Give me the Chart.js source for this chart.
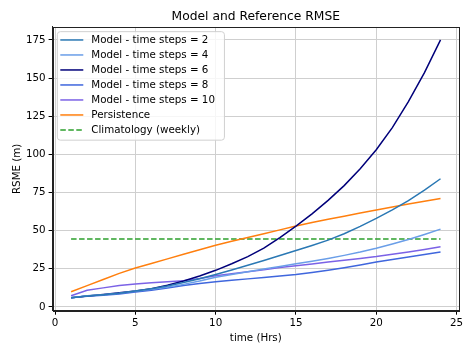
<!DOCTYPE html>
<html>
<head>
<meta charset="utf-8">
<script src="https://cdn.jsdelivr.net/npm/chart.js@4.4.1/dist/chart.umd.min.js"></script>
<style>
html,body{margin:0;padding:0;background:#fff;}
#wrap{width:474px;height:355px;}
canvas{display:block;}
</style>
</head>
<body>
<div id="wrap"><canvas id="c" width="474" height="355"></canvas></div>
<script>
const hours = [1,2,3,4,5,6,7,8,9,10,11,12,13,14,15,16,17,18,19,20,21,22,23,24];
const steps2  = [6,7.2,8,9,10.4,12,13.8,16,18.5,21.3,24.2,27.3,30.4,33.7,37,40.3,43.8,48,52.8,58,63.6,69.7,76.5,84];
const steps4  = [6,7.3,8,9,10.3,11.6,13,14.8,17,19.5,21.3,23,24.8,26.5,28.3,30,31.8,33.8,36,38.5,41.3,44.2,47.5,51];
const steps6  = [6,7.2,8.2,9.3,10.5,12,14.2,17,20.3,24,28.3,33,38.5,45.5,53,61,69.8,79.5,90.5,103,117.5,134.5,153.5,175];
const steps8  = [6,7,7.6,8.5,9.8,11,12.4,14,15.3,16.5,17.5,18.4,19.3,20.3,21.3,22.6,24.1,25.7,27.5,29.4,31.1,32.7,34.4,36];
const steps10 = [7.3,11,12.5,14,15,15.8,16.5,17.2,18.7,20.5,21.8,23,24.3,25.8,27,28.2,29.4,30.6,31.8,33,34.5,36,37.6,39.4];
const persistence = [10,14,18,22,25.5,28.5,31.5,34.5,37.5,40.4,43,45.5,48,50.5,53,55.3,57.5,59.5,61.5,63.5,65.5,67.5,69.2,71];
const climatology = [44.5,44.5,44.5,44.5,44.5,44.5,44.5,44.5,44.5,44.5,44.5,44.5,44.5,44.5,44.5,44.5,44.5,44.5,44.5,44.5,44.5,44.5,44.5,44.5];
const seriesLabels = ["Model - time steps = 2","Model - time steps = 4","Model - time steps = 6","Model - time steps = 8","Model - time steps = 10","Persistence","Climatology (weekly)"];
const xTicks = [0,5,10,15,20,25];
const yTicks = [0,25,50,75,100,125,150,175];

const colors = ['#2a78b4','#6a9ee8','#00007a','#3f66dd','#7b62e6','#ff7f0e','#2ca02c'];
const allSeries = [steps2, steps4, steps6, steps8, steps10, persistence, climatology];
const FONT = 'DejaVu Sans';

const datasets = allSeries.map((arr, i) => ({
  label: seriesLabels[i],
  data: hours.map((h, j) => ({x: h, y: arr[j]})),
  borderColor: colors[i],
  backgroundColor: colors[i],
  borderWidth: 1.5,
  borderDash: i === 6 ? [5.5, 2.5] : [],
  pointRadius: 0,
  tension: 0,
  fill: false
}));

const framePlugin = {
  id: 'frame',
  afterDraw(chart) {
    const {ctx, chartArea: a} = chart;
    ctx.save();
    ctx.strokeStyle = '#222';
    ctx.lineWidth = 1;
    ctx.strokeRect(Math.round(a.left) + 0.5, Math.round(a.top) + 0.5, Math.round(a.right - a.left), Math.round(a.bottom - a.top));
    // legend
    ctx.font = '10.3px "' + FONT + '"';
    let maxW = 0;
    chart.data.datasets.forEach(d => { maxW = Math.max(maxW, ctx.measureText(d.label).width); });
    const lx = a.left + 4.7, ly = a.top + 4.7;
    const rowH = 15;
    const w = 38.5 + maxW + 5;
    const h = rowH * chart.data.datasets.length + 3.5;
    const r = 3;
    ctx.beginPath();
    ctx.moveTo(lx + r, ly);
    ctx.lineTo(lx + w - r, ly);
    ctx.quadraticCurveTo(lx + w, ly, lx + w, ly + r);
    ctx.lineTo(lx + w, ly + h - r);
    ctx.quadraticCurveTo(lx + w, ly + h, lx + w - r, ly + h);
    ctx.lineTo(lx + r, ly + h);
    ctx.quadraticCurveTo(lx, ly + h, lx, ly + h - r);
    ctx.lineTo(lx, ly + r);
    ctx.quadraticCurveTo(lx, ly, lx + r, ly);
    ctx.closePath();
    ctx.fillStyle = 'rgba(255,255,255,0.8)';
    ctx.fill();
    ctx.strokeStyle = '#d0d0d0';
    ctx.lineWidth = 1;
    ctx.stroke();
    chart.data.datasets.forEach((d, i) => {
      const cy = ly + 8.3 + i * rowH;
      ctx.beginPath();
      ctx.setLineDash(d.borderDash || []);
      ctx.strokeStyle = d.borderColor;
      ctx.lineWidth = 1.5;
      ctx.moveTo(lx + 3, cy);
      ctx.lineTo(lx + 26, cy);
      ctx.stroke();
      ctx.setLineDash([]);
      ctx.fillStyle = '#000';
      ctx.textBaseline = 'middle';
      ctx.textAlign = 'left';
      ctx.fillText(d.label, lx + 34, cy);
    });
    ctx.restore();
  }
};

new Chart(document.getElementById('c'), {
  type: 'line',
  data: {datasets},
  plugins: [framePlugin],
  options: {
    responsive: false,
    animation: false,
    layout: {padding: {left: 0, right: 15, top: 0, bottom: 0}},
    plugins: {
      legend: {display: false},
      tooltip: {enabled: false},
      title: {
        display: true,
        text: 'Model and Reference RMSE',
        fullSize: false,
        color: '#000',
        font: {family: FONT, size: 12.3, weight: 'normal'},
        padding: {top: 9.2, bottom: 3}
      }
    },
    scales: {
      x: {
        type: 'linear',
        min: -0.15,
        max: 25.15,
        afterBuildTicks: s => { s.ticks = xTicks.map(v => ({value: v})); },
        afterFit: s => { s.height = 44.3; },
        ticks: {color: '#000', font: {family: FONT, size: 10.3}, padding: 2, maxRotation: 0},
        grid: {color: '#cfcfcf', lineWidth: 1, tickLength: 4, tickColor: '#000', tickWidth: 1},
        border: {display: true, color: '#222', width: 1},
        title: {display: true, text: 'time (Hrs)', color: '#000', font: {family: FONT, size: 10.3}, padding: {top: 2, bottom: 10.5}}
      },
      y: {
        type: 'linear',
        min: -2.45,
        max: 183.45,
        afterBuildTicks: s => { s.ticks = yTicks.map(v => ({value: v})); },
        afterFit: s => { s.width = 52.6; },
        ticks: {color: '#000', font: {family: FONT, size: 10.3}, padding: 3},
        grid: {color: '#cfcfcf', lineWidth: 1, tickLength: 4, tickColor: '#000', tickWidth: 1},
        border: {display: true, color: '#222', width: 1},
        title: {display: true, text: 'RSME (m)', color: '#000', font: {family: FONT, size: 10.3}, padding: {top: 11.5, bottom: 0}}
      }
    }
  }
});
</script>
</body>
</html>
